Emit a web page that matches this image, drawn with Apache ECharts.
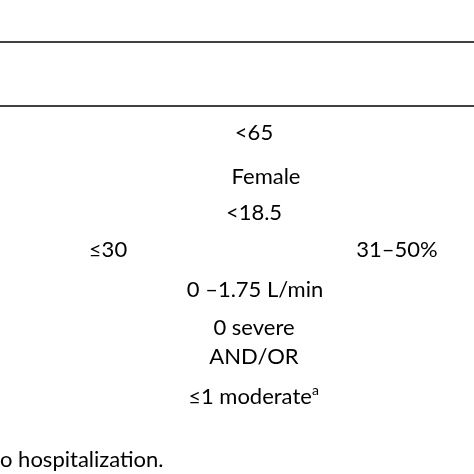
<!DOCTYPE html>
<html><head><meta charset="utf-8">
<script src="https://cdn.jsdelivr.net/npm/echarts@6/dist/echarts.min.js"></script>
<style>html,body{margin:0;padding:0;background:#fff}#c{width:474px;height:474px}</style>
</head><body><div id="c"></div>
<script>
// table cells: text, x centre, y centre
const cellTexts = ['<65', 'Female', '<18.5', '≤30', '31–50%', '0 –1.75 L/min', '0 severe', 'AND/OR', '≤1 moderate'];
const cellX = [254, 266, 254, 108, 397, 255, 254, 254, 250];
const cellY = [133, 177, 213, 250, 250, 290, 328, 357, 397];
const ruleY = [42, 106];
const footnote = 'o hospitalization.';

const chart = echarts.init(document.getElementById('c'));
const font = '22px Lato, "DejaVu Sans", sans-serif';
const elements = [];
ruleY.forEach(y => elements.push({
    type: 'line', shape: {x1: 0, y1: y, x2: 474, y2: y},
    style: {stroke: '#000', lineWidth: 1.5}
}));
cellTexts.forEach((t, i) => elements.push({
    type: 'text', x: cellX[i], y: cellY[i],
    style: {text: t, font: font, fill: '#000', align: 'center', verticalAlign: 'middle'}
}));
elements.push({
    type: 'text', x: 312, y: 390,
    style: {text: 'a', font: '14px Lato, sans-serif', fill: '#000', align: 'left', verticalAlign: 'middle'}
});
elements.push({
    type: 'text', x: 0, y: 460,
    style: {text: footnote, font: font, fill: '#000', align: 'left', verticalAlign: 'middle'}
});
chart.setOption({backgroundColor: '#fff', graphic: {elements: elements}});
</script></body></html>
